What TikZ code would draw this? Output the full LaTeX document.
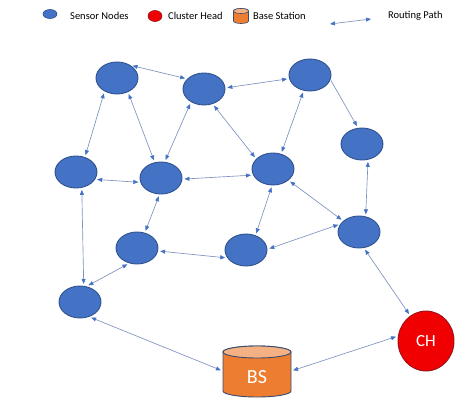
\documentclass[tikz,border=0pt]{standalone}
\usepackage{fontspec}
\setmainfont{Carlito}
\usetikzlibrary{shapes.geometric,arrows.meta}
\definecolor{nodefill}{RGB}{68,114,196}
\definecolor{nodeline}{RGB}{47,82,143}
\definecolor{linkc}{RGB}{125,145,192}
\definecolor{chred}{RGB}{240,0,0}
\definecolor{chline}{RGB}{150,20,30}
\definecolor{bsorange}{RGB}{237,125,49}
\definecolor{bstop}{RGB}{244,177,131}
\definecolor{bsline}{RGB}{60,75,110}
\tikzset{
  sensor/.style={ellipse,fill=nodefill,draw=nodeline,line width=0.9pt,minimum width=42pt,minimum height=32pt,inner sep=0pt},
  link/.style={draw=linkc,line width=0.65pt,{Triangle[length=5pt,width=4pt,color=nodefill]}-{Triangle[length=5pt,width=4pt,color=nodefill]},shorten <=2pt,shorten >=2pt},
  olink/.style={draw=linkc,line width=0.65pt,-{Triangle[length=5pt,width=4pt,color=nodefill]},shorten <=1pt,shorten >=2pt},
  legtext/.style={anchor=west,font=\fontsize{10.5}{12}\selectfont,text=black,inner sep=0pt}
}
\begin{document}
\begin{tikzpicture}[x=1pt,y=-1pt]
\useasboundingbox (0,0) rectangle (474,407);
% legend
\node[ellipse,fill=nodefill,draw=nodeline,line width=0.6pt,minimum width=14pt,minimum height=9pt,inner sep=0pt] (lgs) at (50,14) {};
\node[legtext] (lgst) at (70,16) {Sensor Nodes};
\node[ellipse,fill=chred,draw=chline,line width=0.6pt,minimum width=14pt,minimum height=11pt,inner sep=0pt] (lgc) at (155,16) {};
\node[legtext] (lgct) at (168,16) {Cluster Head};
\node[inner sep=0pt,minimum width=15pt,minimum height=15pt] (lgb) at (241,16) {};
\fill[bsorange,draw=bsline,line width=0.6pt] (233.5,11) -- (233.5,21) arc[start angle=180,end angle=360,x radius=7.5pt,y radius=2.5pt] -- (248.5,11) arc[start angle=0,end angle=180,x radius=7.5pt,y radius=2.5pt] -- cycle;
\fill[bstop,draw=bsline,line width=0.6pt] (241,11) ellipse[x radius=7.5pt,y radius=2.5pt];
\node[legtext] (lgbt) at (253,16) {Base Station};
\coordinate (la) at (330,24);
\coordinate (lb) at (371,19);
\draw[link,shorten <=0pt,shorten >=0pt] (la) -- (lb);
\node[legtext] (lgrt) at (388,16) {Routing Path};
% sensor nodes
\node[sensor] (n1) at (117,78) {};
\node[sensor] (n2) at (204,89) {};
\node[sensor] (n3) at (310,75) {};
\node[sensor] (n4) at (362,144) {};
\node[sensor] (n5) at (273,169) {};
\node[sensor] (n6) at (359,232) {};
\node[sensor] (n7) at (76,172) {};
\node[sensor] (n8) at (161,178) {};
\node[sensor] (n9) at (137,248) {};
\node[sensor] (n10) at (246,250) {};
\node[sensor] (n11) at (80,302) {};
% cluster head
\node[ellipse,fill=chred,draw=chline,line width=0.9pt,minimum width=56pt,minimum height=60pt,inner sep=0pt,text=white,font=\fontsize{17}{20}\selectfont] (ch) at (426,341) {CH};
% base station
\node[inner sep=0pt,minimum width=68pt,minimum height=51pt] (bs) at (257,371) {};
\fill[bsorange,draw=bsline,line width=0.9pt] (223,352) -- (223,391) arc[start angle=180,end angle=360,x radius=34pt,y radius=6pt] -- (291,352) arc[start angle=0,end angle=180,x radius=34pt,y radius=6pt] -- cycle;
\fill[bstop,draw=bsline,line width=0.9pt] (257,352) ellipse[x radius=34pt,y radius=6pt];
\node[text=white,font=\fontsize{20}{24}\selectfont,inner sep=0pt] (bst) at (257,377) {BS};
% links
\draw[link] (n1.43) -- (n2.149);
\draw[link] (n2.3) -- (n3.190);
\draw[olink] (n3.-13) -- (n4.104);
\draw[link] (n3.248) -- (n5.62);
\draw[link] (n2.225) -- (n8.77);
\draw[link] (n1.308) -- (n8.112);
\draw[link] (n1.227) -- (n7.59);
\draw[link] (n2.300) -- (n5.149);
\draw[link] (n7.339) -- (n8.192);
\draw[link] (n8.357) -- (n5.197);
\draw[link] (n5.324) -- (n6.145);
\draw[link] (n4.291) -- (n6.67);
\draw[link] (n10.2) -- (n6.157);
\draw[link] (n5.267) -- (n10.57);
\draw[link] (n8.265) -- (n9.63);
\draw[link] (n9.352) -- (n10.203);
\draw[link] (n9.243) -- (n11.67);
\draw[link] (n7.290) -- (n11.77);
\draw[link] (n11.302) -- (bs.west);
\draw[link] (n6.287) -- (ch.122);
\draw[link] (bs.east) -- (ch.170);
\end{tikzpicture}
\end{document}
